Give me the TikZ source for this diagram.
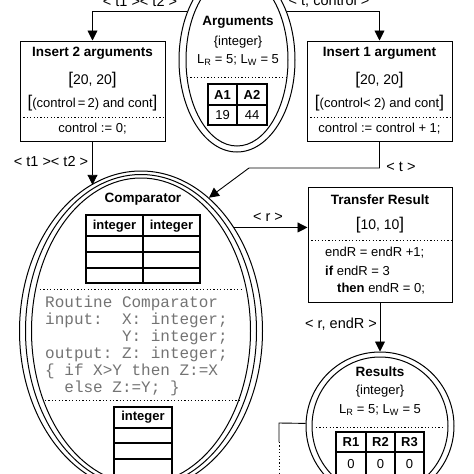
\documentclass[tikz,border=0pt]{standalone}
\usepackage{fontspec}
\setmainfont{Liberation Sans}
\setmonofont{Liberation Mono}
\usetikzlibrary{shapes.geometric,arrows.meta}
\newcommand\mybrk[1]{{\fontsize{17}{17}\selectfont[}#1{\fontsize{17}{17}\selectfont]}}
\begin{document}
\begin{tikzpicture}[x=1pt,y=-1pt,
  txt/.style={font=\fontsize{13}{15}\selectfont, inner sep=0pt},
  big/.style={font=\fontsize{14}{15}\selectfont, inner sep=0pt},
  lab/.style={font=\fontsize{14.5}{15}\selectfont, inner sep=0pt},
  ttl/.style={font=\fontsize{13.5}{15}\selectfont\bfseries, inner sep=0pt},
  hdr/.style={font=\fontsize{13}{15}\selectfont\bfseries, inner sep=0pt},
  boxn/.style={draw, line width=1pt, inner sep=0pt},
  ell/.style={ellipse, draw, line width=1pt, inner sep=0pt},
  sep/.style={line width=0.9pt, dash pattern=on 1.2pt off 2.2pt},
  tab/.style={line width=1.6pt},
  arr/.style={line width=0.9pt, -{Triangle[length=10pt,width=10pt]}},
  plain/.style={line width=0.9pt},
  code/.style={font=\fontsize{16}{17}\selectfont\ttfamily, text=black!55, inner sep=0pt, anchor=west},
  left/.style={txt, anchor=west},
]
\useasboundingbox (0,0) rectangle (474,474);
\clip (0,0) rectangle (474,474);

% ---------- Arguments ----------
\node[ell, minimum width=116pt, minimum height=184pt] (args) at (237,60) {};
\node[ell, minimum width=102pt, minimum height=172pt] (argsin) at (237,60) {};
\node[ttl] (argst) at (238,22) {Arguments};
\node[txt] (argsty) at (238,42) {\{integer\}};
\node[txt] (argsl) at (238,60) {L\textsubscript{R} = 5; L\textsubscript{W} = 5};
\draw[sep] (187,77) -- (288,77);
\draw[tab] (208,84) rectangle (267,125);
\draw[tab] (208,105) -- (267,105) (237,84) -- (237,125);
\node[hdr] (a1) at (222.5,95) {A1};
\node[hdr] (a2) at (252,95) {A2};
\node[txt] (v1) at (222.5,115.5) {19};
\node[txt] (v2) at (252,115.5) {44};

% ---------- Insert 2 arguments ----------
\node[boxn, minimum width=145pt, minimum height=100pt] (ins2) at (92.5,91) {};
\node[ttl] (ins2t) at (92.5,53) {Insert 2 arguments};
\node[big] (ins2a) at (92.5,80) {\mybrk{20, 20}};
\node[txt] (ins2b) at (92.5,103) {\mybrk{(control\,=\,2) and cont}};
\draw[sep] (20,117) -- (165,117);
\node[txt] (ins2c) at (92.5,129) {control := 0;};

% ---------- Insert 1 argument ----------
\node[boxn, minimum width=145pt, minimum height=100pt] (ins1) at (379.5,91) {};
\node[ttl] (ins1t) at (379.5,53) {Insert 1 argument};
\node[big] (ins1a) at (379.5,80) {\mybrk{20, 20}};
\node[txt] (ins1b) at (379.5,103) {\mybrk{(control< 2) and cont}};
\draw[sep] (307,117) -- (452,117);
\node[txt] (ins1c) at (379.5,129) {control := control + 1;};

% ---------- Comparator ----------
\node[ell, minimum width=243pt, minimum height=320pt] (comp) at (141,331) {};
\node[ell, minimum width=231pt, minimum height=313pt] (compm) at (141,331) {};
\node[ell, minimum width=219pt, minimum height=306pt] (compi) at (141,331) {};
\node[ttl] (compt) at (143,199) {Comparator};
\draw[tab] (86,215) rectangle (200,283);
\draw[tab] (86,236) -- (200,236) (86,252) -- (200,252) (86,268) -- (200,268) (143,215) -- (143,283);
\node[hdr] (ci1) at (114.5,226) {integer};
\node[hdr] (ci2) at (171.5,226) {integer};
\draw[sep] (40,289) -- (242,289);
\node[code] (cl1) at (45,303) {Routine Comparator};
\node[code] (cl2) at (45,320) {input:~~X: integer;};
\node[code] (cl3) at (45,337) {~~~~~~~~Y: integer;};
\node[code] (cl4) at (45,354) {output:~Z: integer;};
\node[code] (cl5) at (45,371) {\{ if X>Y then Z:=X};
\node[code] (cl6) at (45,388) {~~else Z:=Y; \}};
\draw[sep] (45,400) -- (240,400);
\draw[tab] (114,407) rectangle (172,476);
\draw[tab] (114,428) -- (172,428) (114,443) -- (172,443) (114,459) -- (172,459);
\node[hdr] (co) at (143,417.5) {integer};

% ---------- Transfer Result ----------
\node[boxn, minimum width=144pt, minimum height=115pt] (trans) at (380,244.5) {};
\node[ttl] (transt) at (380,200) {Transfer Result};
\node[big] (transa) at (380,225) {\mybrk{10, 10}};
\draw[sep] (308,240) -- (452,240);
\node[left] (tl1) at (325,253) {endR = endR +1;};
\node[left] (tl2) at (325,271) {\textbf{if} endR = 3};
\node[left] (tl3) at (337,289) {\textbf{then} endR = 0;};

% ---------- Results ----------
\node[ell, minimum width=148pt, minimum height=148pt] (res) at (380,426) {};
\node[ell, minimum width=136pt, minimum height=138pt] (resin) at (380,426) {};
\node[ttl] (rest) at (380,372) {Results};
\node[txt] (resty) at (380,391) {\{integer\}};
\node[txt] (resl) at (380,410) {L\textsubscript{R} = 5; L\textsubscript{W} = 5};
\draw[sep] (316,427) -- (444,427);
\draw[tab] (336,432) rectangle (424,496);
\draw[tab] (336,452) -- (424,452) (366,432) -- (366,496) (395,432) -- (395,496);
\node[hdr] (r1) at (351,442) {R1};
\node[hdr] (r2) at (380.5,442) {R2};
\node[hdr] (r3) at (409.5,442) {R3};
\node[txt] (z1) at (351,464) {0};
\node[txt] (z2) at (380.5,464) {0};
\node[txt] (z3) at (409.5,464) {0};

% ---------- connectors ----------
\coordinate (bend) at (249,168);
\draw[arr] (args.136) -| (ins2.north);
\draw[arr] (args.44) -| (ins1.north);
\draw[arr] (ins2.south) -- (ins2.south |- comp.109);
\draw[arr] (ins1.south) |- (bend) -- (comp.63);
\draw[arr] (comp.48) -- (comp.48 -| trans.west);
\draw[arr] (trans.south) -- (res.north);
\coordinate (rl) at (279,423);
\draw[plain] (res.178) -- (rl) -- ++(0,19) coordinate (rl2);
\draw[sep] (rl2) -- ++(0,40);

% ---------- labels ----------
\node[lab] (lab1) at (140,1.5) {< t1 >< t2 >};
\node[lab] (lab2) at (329,1.5) {< t, control >};
\node[lab] (lab3) at (51,161) {< t1 >< t2 >};
\node[lab] (lab4) at (401,167) {< t >};
\node[lab] (lab5) at (268,217) {< r >};
\node[lab] (lab6) at (341,324) {< r, endR >};
\end{tikzpicture}
\end{document}
